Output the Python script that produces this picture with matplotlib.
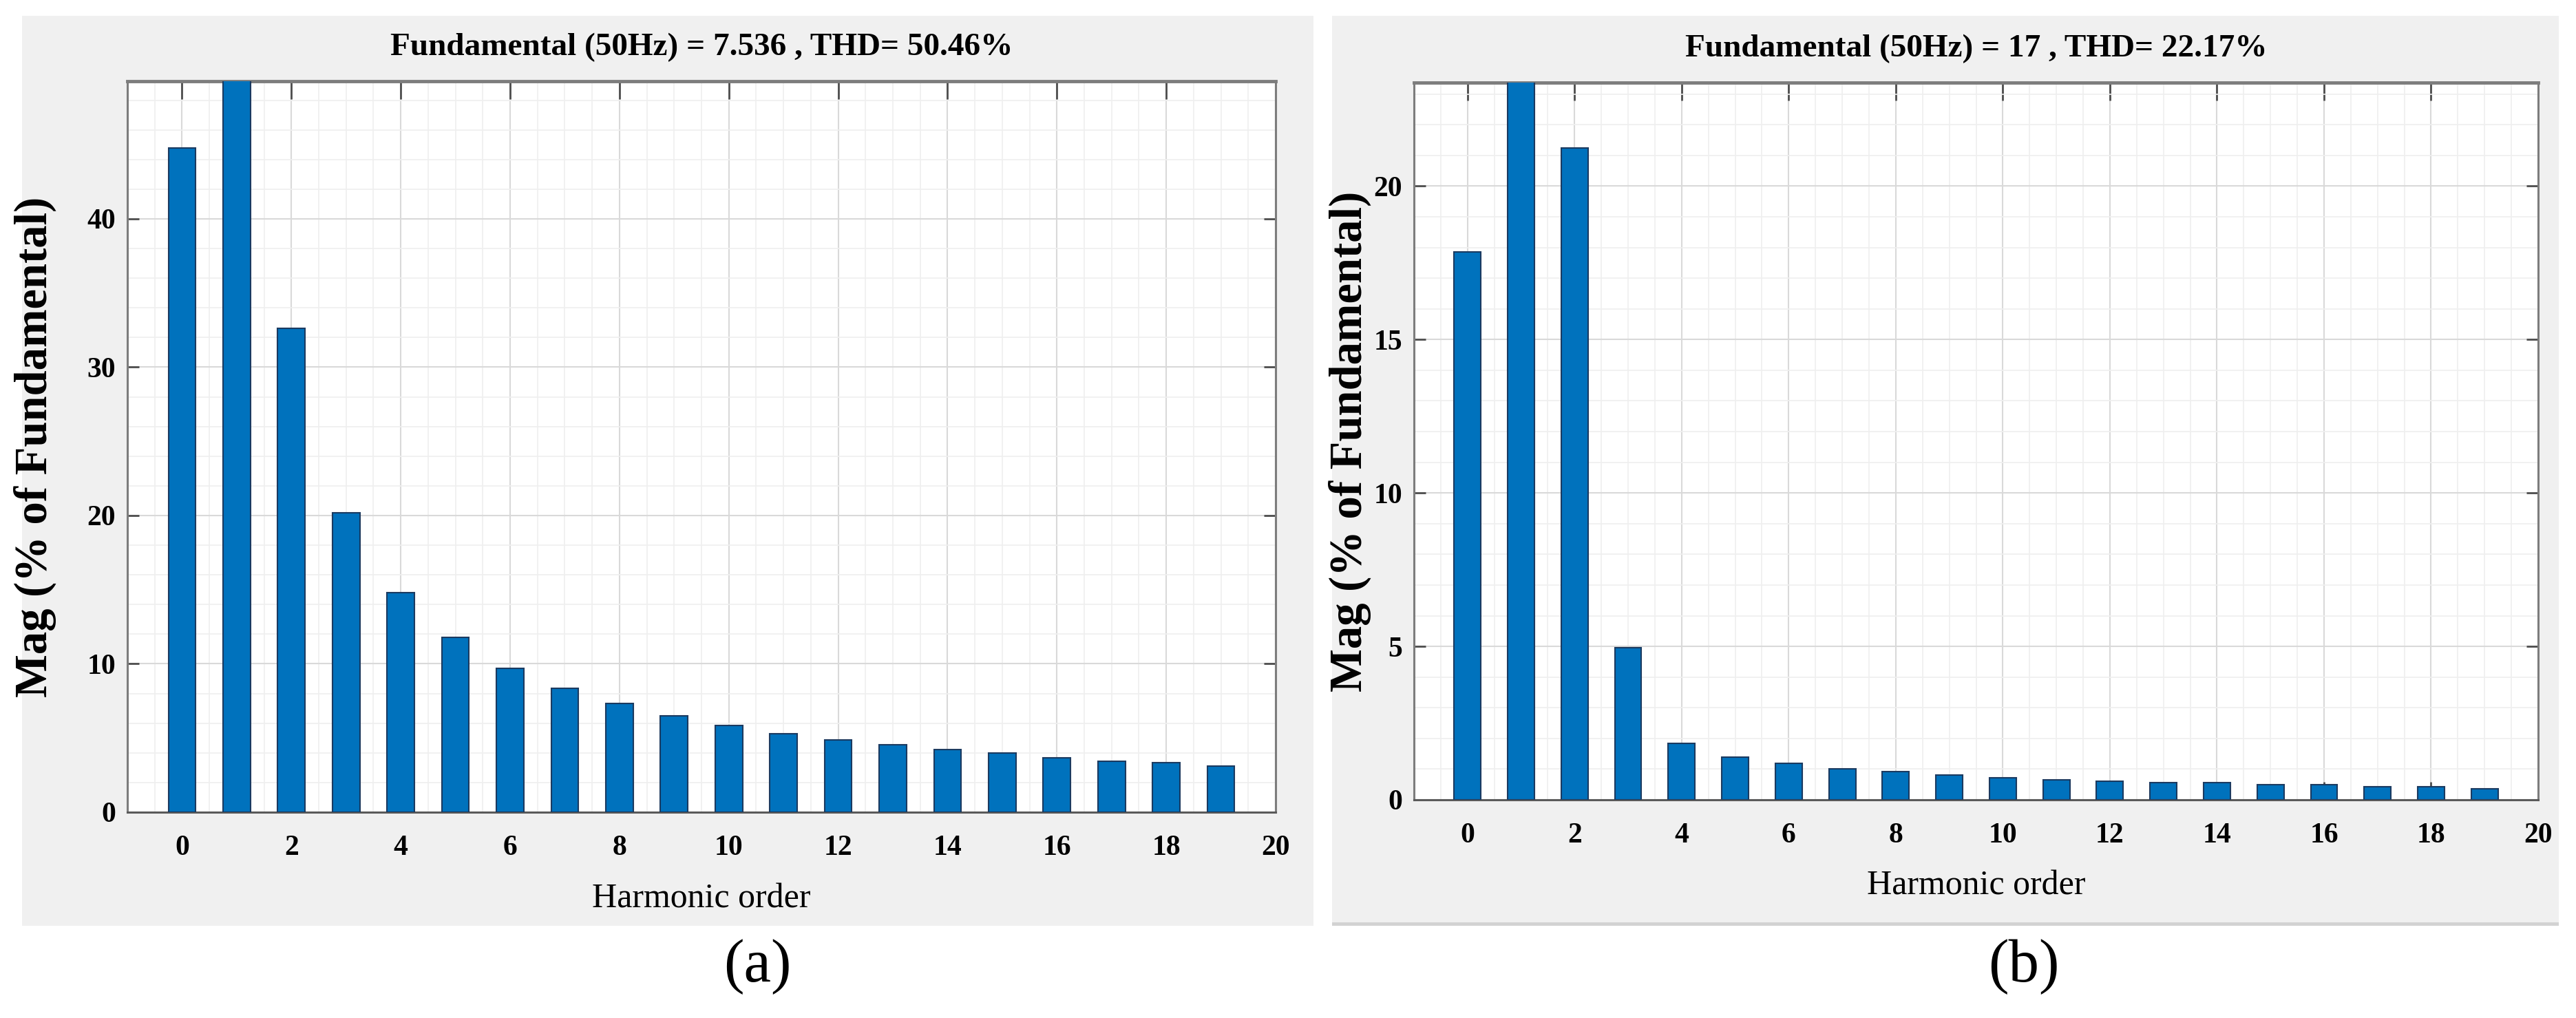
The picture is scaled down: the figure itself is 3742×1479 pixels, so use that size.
import matplotlib
matplotlib.use("Agg")
import matplotlib.pyplot as plt
from matplotlib.patches import Rectangle
from matplotlib.ticker import MultipleLocator, AutoMinorLocator

plt.rcParams["font.family"] = ["Liberation Serif", "DejaVu Serif"]

# harmonic spectrum, % of fundamental (order 1 = fundamental, clipped by the y range)
orders = list(range(20))
mag_a = [44.8, 100, 32.6, 20.2, 14.8, 11.8, 9.7, 8.35, 7.35, 6.5,
         5.85, 5.3, 4.87, 4.55, 4.21, 3.98, 3.68, 3.45, 3.36, 3.12]
mag_b = [17.86, 100, 21.25, 4.95, 1.85, 1.38, 1.18, 1.01, 0.92, 0.81,
         0.71, 0.64, 0.60, 0.56, 0.56, 0.49, 0.49, 0.43, 0.43, 0.37]
titles = ["Fundamental (50Hz) = 7.536 , THD= 50.46%",
          "Fundamental (50Hz) = 17 , THD= 22.17%"]
yticks_a = [0, 10, 20, 30, 40]
yticks_b = [0, 5, 10, 15, 20]
xticks = list(range(0, 21, 2))
panel_labels = ["(a)", "(b)"]

W, H = 3742, 1479
fig = plt.figure(figsize=(W / 100, H / 100), dpi=100)


def px_rect(x0, y0, x1, y1):
    # pixel box (top-left origin) -> figure fraction [left, bottom, width, height]
    return [x0 / W, 1 - y1 / H, (x1 - x0) / W, (y1 - y0) / H]


# grey panel backgrounds, kept behind the axes
for box, col in [((32, 23, 1908, 1345), "#f0f0f0"),
                 ((1935, 23, 3717, 1343), "#f0f0f0"),
                 ((1935, 1340, 3717, 1345), "#d2d2d2")]:
    l, b, w, h = px_rect(*box)
    fig.patches.append(Rectangle((l, b), w, h, transform=fig.transFigure,
                                 facecolor=col, edgecolor="none", zorder=-10))

panels = [
    dict(box=(185, 118, 1853, 1180), mag=mag_a, yticks=yticks_a, ylab_x=82,
         xlab_y=1283, label_x=1100),
    dict(box=(2054, 120, 3687, 1162), mag=mag_b, yticks=yticks_b, ylab_x=1992,
         xlab_y=1264, label_x=2940),
]

for i, p in enumerate(panels):
    x0, y0, x1, y1 = p["box"]
    ax = fig.add_axes(px_rect(x0, y0, x1, y1))
    ax.set_facecolor("white")

    ax.bar(orders, p["mag"], width=0.5, color="#0072bd",
           edgecolor="#1b3a60", linewidth=1.5, zorder=3)

    # y range: 110 % of the largest harmonic other than the fundamental
    others = [m for o, m in zip(orders, p["mag"]) if o != 1]
    ax.set_xlim(-1, 20)
    ax.set_ylim(0, 1.1 * max(others))

    ax.set_xticks(xticks)
    ax.set_yticks(p["yticks"])
    ax.xaxis.set_minor_locator(MultipleLocator(0.5))
    ax.yaxis.set_minor_locator(AutoMinorLocator(5))

    ax.set_axisbelow(True)
    ax.grid(which="major", color="#d9d9d9", linewidth=1.5)
    ax.grid(which="minor", color="#efefef", linewidth=1.2)

    ax.tick_params(which="major", direction="in", top=True, right=True,
                   width=2, color="#4d4d4d", labelsize=30)
    ax.tick_params(which="minor", length=0, top=True, right=True)
    ax.tick_params(axis="x", which="major", length=19, pad=24)
    ax.tick_params(axis="y", which="major", length=12, pad=12)
    for lab in ax.get_xticklabels() + ax.get_yticklabels():
        lab.set_fontweight("bold")

    for s in ax.spines.values():
        s.set_color("#7d7d7d")
        s.set_linewidth(2.2)
    ax.spines["top"].set_linewidth(3.5)
    ax.spines["bottom"].set_color("#5a5a5a")

    ax.set_title(titles[i], fontsize=34, fontweight="bold", pad=27)
    ax.set_xlabel("Harmonic order", fontsize=36)
    ax.set_ylabel("Mag (% of Fundamental)", fontsize=48, fontweight="bold")
    ax.xaxis.set_label_coords(0.5, -(p["xlab_y"] - y1) / (y1 - y0))
    ax.yaxis.set_label_coords((p["ylab_x"] - x0) / (x1 - x0), 0.5)

    fig.text(p["label_x"] / W, 1 - 1405 / H, panel_labels[i], fontsize=64,
             ha="center", va="center")

fig.savefig("out.png", dpi=100, facecolor="white")
